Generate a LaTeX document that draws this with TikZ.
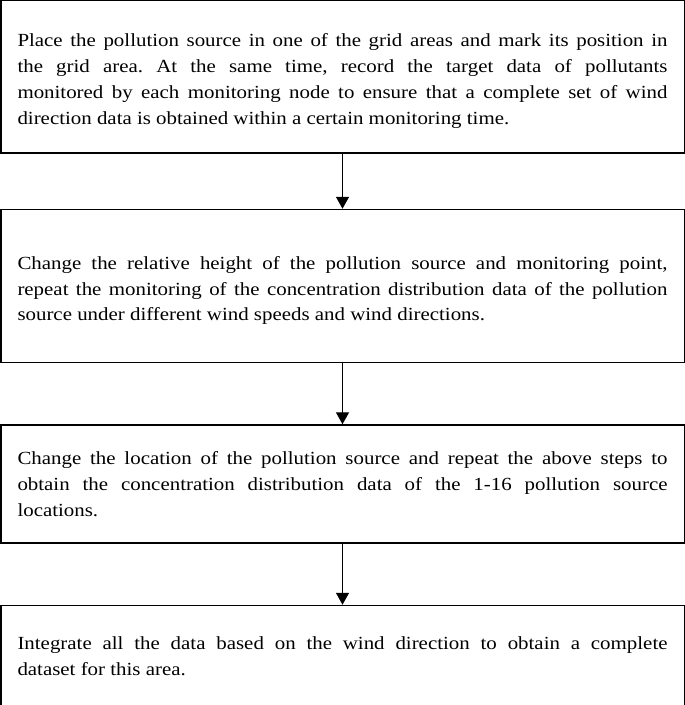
\documentclass[tikz,border=0pt]{standalone}
\usepackage{fontspec}
\setmainfont{Liberation Serif}[FakeStretch=1.13]
\usetikzlibrary{positioning,arrows.meta}

\begin{document}
\begin{tikzpicture}[x=1pt,y=1pt,
    stepbox/.style={draw,line width=1.5pt,minimum width=683.5pt,text width=650pt,
      align=justify,inner sep=0pt,font=\fontsize{18.5}{25.7}\selectfont\frenchspacing},
    flow/.style={-{Triangle[width=13pt,length=12pt]},line width=1.3pt}]
  \useasboundingbox (0,0) rectangle (685,-705);

  \node[stepbox,minimum height=153pt] (place) at (342.5,-76.5)
    {\rule{0pt}{22pt}Place the pollution source in one of the grid areas and mark its position in\linebreak
     the grid area. At the same time, record the target data of pollutants\linebreak
     monitored by each monitoring node to ensure that a complete set of wind\linebreak
     direction data is obtained within a certain monitoring time.};

  \node[stepbox,minimum height=153pt,below=55pt of place] (height)
    {\rule{0pt}{22pt}Change the relative height of the pollution source and monitoring point,\linebreak
     repeat the monitoring of the concentration distribution data of the pollution\linebreak
     source under different wind speeds and wind directions.};

  \node[stepbox,minimum height=118pt,below=61pt of height] (location)
    {Change the location of the pollution source and repeat the above steps to\linebreak
     obtain the concentration distribution data of the 1-16 pollution source\linebreak
     locations.};

  \node[stepbox,minimum height=101pt,below=61pt of location] (dataset)
    {Integrate all the data based on the wind direction to obtain a complete\linebreak
     dataset for this area.};

  \draw[flow] (place) -- (height);
  \draw[flow] (height) -- (location);
  \draw[flow] (location) -- (dataset);
\end{tikzpicture}
\end{document}
